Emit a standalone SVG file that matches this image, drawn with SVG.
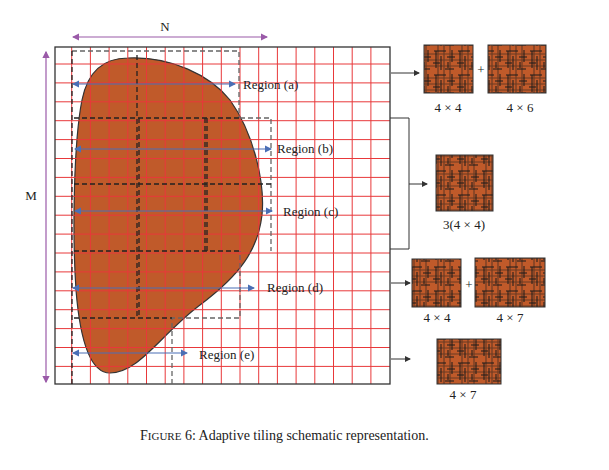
<svg xmlns="http://www.w3.org/2000/svg" width="609" height="470" viewBox="0 0 609 470">
<style>
.t{font-family:"Liberation Serif",serif;font-size:13px;fill:#222}
.g{stroke:#e8383a;stroke-width:1;fill:none}
.dk{stroke:#222;stroke-width:1.3;stroke-dasharray:5,3;fill:none}
.gr{stroke:#666;stroke-width:1.3;stroke-dasharray:5,3;fill:none}
.bl{stroke:#4a6fb5;stroke-width:1.2;fill:none;marker-start:url(#bs);marker-end:url(#be)}
.pu{stroke:#9a5aa8;stroke-width:1.2;fill:none;marker-start:url(#ps);marker-end:url(#pe)}
.ar{stroke:#333;stroke-width:1;fill:none;marker-end:url(#ke)}
.tile{fill:url(#maze);stroke:#333;stroke-width:1}
</style>
<defs>
<marker id="be" markerWidth="6" markerHeight="6" refX="5" refY="3" orient="auto"><path d="M0,0L6,3L0,6z" fill="#4a6fb5"/></marker>
<marker id="bs" markerWidth="6" markerHeight="6" refX="1" refY="3" orient="auto"><path d="M6,0L0,3L6,6z" fill="#4a6fb5"/></marker>
<marker id="pe" markerWidth="6" markerHeight="6" refX="5" refY="3" orient="auto"><path d="M0,0L6,3L0,6z" fill="#9a5aa8"/></marker>
<marker id="ps" markerWidth="6" markerHeight="6" refX="1" refY="3" orient="auto"><path d="M6,0L0,3L6,6z" fill="#9a5aa8"/></marker>
<marker id="ke" markerWidth="6" markerHeight="6" refX="5" refY="3" orient="auto"><path d="M0,0L6,3L0,6z" fill="#333"/></marker>
<pattern id="maze" patternUnits="userSpaceOnUse" width="24" height="24">
<rect width="24" height="24" fill="#c05a2a"/>
<path d="M0,6H24M0,12H24M0,18H24M6,0V24M12,0V24M18,0V24" stroke="#6b3a22" stroke-width="1.2"/>
<path d="M2,3H14M4,3V20M9,8V22M15,9H23M20,2V14M1,15H8M13,21H22M16,14V20" stroke="#1a1a1a" stroke-width="1"/>
</pattern>
</defs>
<g id="dims">
<line class="pu" x1="73" y1="37" x2="267" y2="37"/>
<text class="t" x="165" y="31" text-anchor="middle">N</text>
<line class="pu" x1="46" y1="52" x2="46" y2="382"/>
<text class="t" x="31" y="200" text-anchor="middle">M</text>
</g>
<g id="blob"><path d="M128,58 C170,56 210,75 230,100 C255,135 265,185 262,215 C258,250 240,275 200,305 C160,335 140,372 110,373 C90,373 80,340 76,290 C72,230 74,140 82,100 C88,70 105,58 128,58 Z" fill="#c05a2a" stroke="#333" stroke-width="1.2"/></g>
<g id="grid">
<path class="g" d="M71.7,47V384M90.4,47V384M109.1,47V384M127.8,47V384M146.5,47V384M165.2,47V384M183.9,47V384M202.6,47V384M221.3,47V384M240,47V384M258.7,47V384M277.4,47V384M296.1,47V384M314.8,47V384M333.5,47V384M352.2,47V384M370.9,47V384"/>
<path class="g" d="M55,64H390M55,82.9H390M55,101.8H390M55,120.7H390M55,139.6H390M55,158.5H390M55,177.4H390M55,196.3H390M55,215.2H390M55,234.1H390M55,253H390M55,271.9H390M55,290.8H390M55,309.7H390M55,328.6H390M55,347.5H390M55,366.4H390"/>
<rect x="55" y="47" width="335" height="337" fill="none" stroke="#333" stroke-width="1.3"/>
</g>
<g id="regions">
<path class="gr" d="M72,51H239V118M172,384V318H240V251M240,118H271V251"/>
<path class="dk" d="M72,51V384M74,118H240M74,184H271M74,251H240M74,318H172M137,55V318M139,118V318M205,118V251M207,118V251"/>
<line class="bl" x1="73" y1="84" x2="235" y2="84"/><text class="t" x="243" y="89">Region (a)</text>
<line class="bl" x1="75" y1="149" x2="271" y2="149"/><text class="t" x="277" y="153">Region (b)</text>
<line class="bl" x1="75" y1="211" x2="272" y2="211"/><text class="t" x="283" y="216">Region (c)</text>
<line class="bl" x1="73" y1="288" x2="254" y2="288"/><text class="t" x="267" y="292">Region (d)</text>
<line class="bl" x1="73" y1="353" x2="187" y2="353"/><text class="t" x="199" y="359">Region (e)</text>
</g>
<g id="connectors">
<line class="ar" x1="391" y1="73" x2="419" y2="73"/>
<path d="M390,118H409V249H390" fill="none" stroke="#333" stroke-width="1"/>
<line class="ar" x1="409" y1="184" x2="427" y2="184"/>
<line class="ar" x1="391" y1="283" x2="410" y2="283"/>
<line class="ar" x1="391" y1="359" x2="410" y2="359"/>
</g>
<g id="tileA">
<rect class="tile" x="424" y="45" width="49" height="48"/>
<text class="t" x="481" y="74" text-anchor="middle">+</text>
<rect class="tile" x="488" y="45" width="58" height="48"/>
<text class="t" x="448" y="112" text-anchor="middle">4 × 4</text>
<text class="t" x="520" y="112" text-anchor="middle">4 × 6</text>
</g>
<g id="tileB">
<rect class="tile" x="436" y="155" width="57" height="56"/>
<text class="t" x="464" y="229" text-anchor="middle">3(4 × 4)</text>
</g>
<g id="tileD">
<rect class="tile" x="412" y="259" width="49" height="48"/>
<text class="t" x="469" y="289" text-anchor="middle">+</text>
<rect class="tile" x="475" y="258" width="70" height="49"/>
<text class="t" x="437" y="322" text-anchor="middle">4 × 4</text>
<text class="t" x="510" y="322" text-anchor="middle">4 × 7</text>
</g>
<g id="tileE">
<rect class="tile" x="437" y="339" width="64" height="45"/>
<text class="t" x="463" y="399" text-anchor="middle">4 × 7</text>
</g>
<text class="t" x="140" y="440" style="font-size:14px">F<tspan style="font-size:11px">IGURE</tspan> 6: Adaptive tiling schematic representation.</text>
</svg>
